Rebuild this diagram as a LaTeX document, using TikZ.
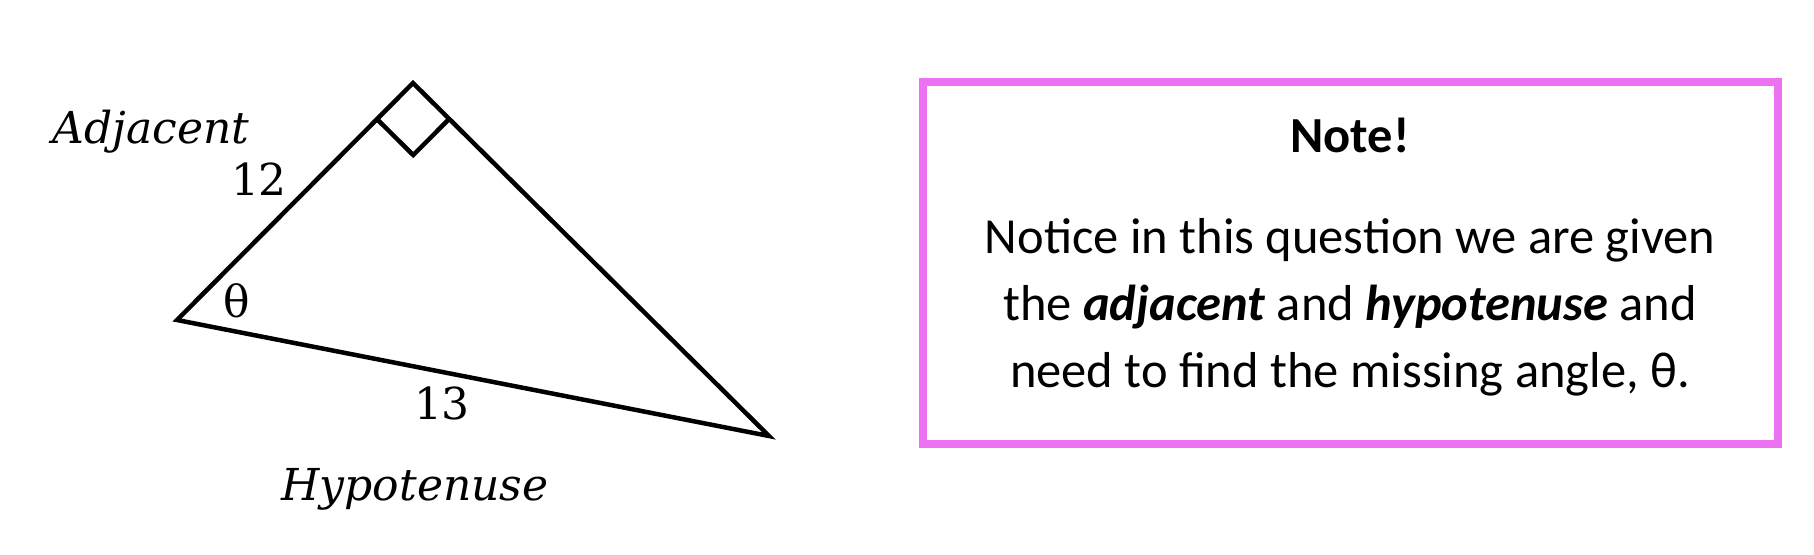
\documentclass[tikz,border=0pt]{standalone}
\usepackage{fontspec}
\newfontfamily\notefont{Carlito}
\newfontfamily\labelfont{DejaVu Serif}
\usetikzlibrary{positioning,calc}
\definecolor{notepink}{RGB}{236,114,242}
\tikzset{
  side/.style={font={\labelfont\fontsize{44}{44}\selectfont}},
  name label/.style={font={\labelfont\fontsize{44}{44}\selectfont\itshape}},
  note text/.style={font={\notefont\fontsize{50.5}{67}\selectfont}},
}
\begin{document}
\begin{tikzpicture}[x=1pt,y=-1pt]
    \useasboundingbox (0,0) rectangle (1814,554);
      % Triangle
      \coordinate (A) at (177,320);
      \coordinate (B) at (413,83);
      \coordinate (C) at (769,436);
      \draw[line width=4.5pt] (A) -- (B) -- (C) -- cycle;

      % Right angle
      \coordinate (ra1) at ($(B)!51pt!(A)$);
      \coordinate (ra2) at ($(B)!51pt!(C)$);
      \coordinate (ra3) at ($(ra1) + (ra2) - (B)$);
      \draw[line width=4.5pt] (ra1) -- (ra3) -- (ra2);

      % Labels
      \node[name label] (adj) at (151,132) {Adjacent};
      \node[side] (twelve) at (259,179) {12};
      \node[side] (theta) at (237,301) {θ};
      \node[side] (thirteen) at (442,403) {13};
      \node[name label] (hyp) at (415,489) {Hypotenuse};

      % Note
      \node[draw=notepink, line width=8pt, minimum width=855pt,
        minimum height=362pt, inner sep=0pt] (note) at (1350.5,263) {};
      \node[note text, font={\notefont\fontsize{50.5}{67}\selectfont\bfseries}]
        (title) at (1350,135) {Note!};
      \node[note text, align=center] (body) at (1350,307)
        {Notice in this question we are given\\
         the \textbf{\textit{adjacent}} and \textbf{\textit{hypotenuse}} and\\
         need to find the missing angle, θ.};
\end{tikzpicture}
\end{document}
